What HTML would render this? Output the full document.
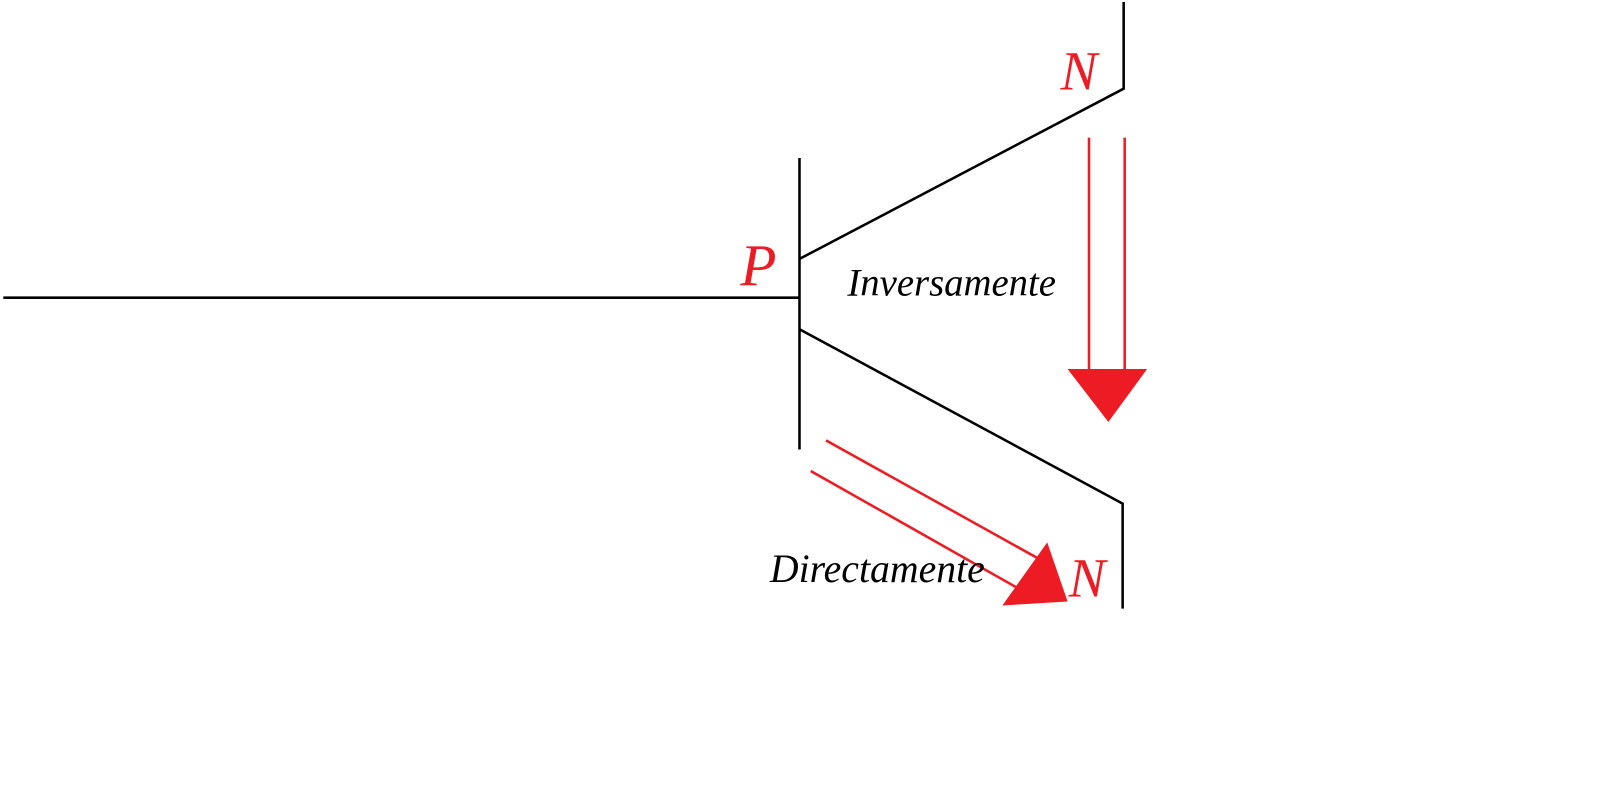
<!DOCTYPE html>
<html><head><style>html,body{margin:0;padding:0;background:#fff;width:1600px;height:788px;overflow:hidden}</style></head>
<body>
<svg width="1600" height="788" viewBox="0 0 1569 773" xmlns="http://www.w3.org/2000/svg">
<g stroke="#000" stroke-width="2.5" fill="none">
<line x1="3" y1="292" x2="784" y2="292"/>
<line x1="784" y1="155" x2="784" y2="441"/>
<polyline points="1102,2 1102,87 784,254"/>
<polyline points="784,323 1101,494 1101,597"/>
</g>
<g stroke="#ed1c24" stroke-width="2.5">
<line x1="1068" y1="135" x2="1068" y2="364"/>
<line x1="1103" y1="135" x2="1103" y2="364"/>
<line x1="810" y1="432" x2="1022" y2="550"/>
<line x1="795" y1="462" x2="1000" y2="578"/>
</g>
<g fill="#ed1c24">
<polygon points="1047,362 1125,362 1087,414"/>
<polygon points="1027,532 1047,590 983,594"/>
</g>
<g font-family="Liberation Serif, serif" font-style="italic">
<text x="726" y="280" font-size="58" fill="#ed1c24">P</text>
<text x="1040" y="88" font-size="54" fill="#ed1c24">N</text>
<text x="1048" y="585" font-size="54" fill="#ed1c24">N</text>
<text x="831" y="290" font-size="38" fill="#000">Inversamente</text>
<text x="755" y="571" font-size="39" fill="#000">Directamente</text>
</g>
</svg>
</body></html>
